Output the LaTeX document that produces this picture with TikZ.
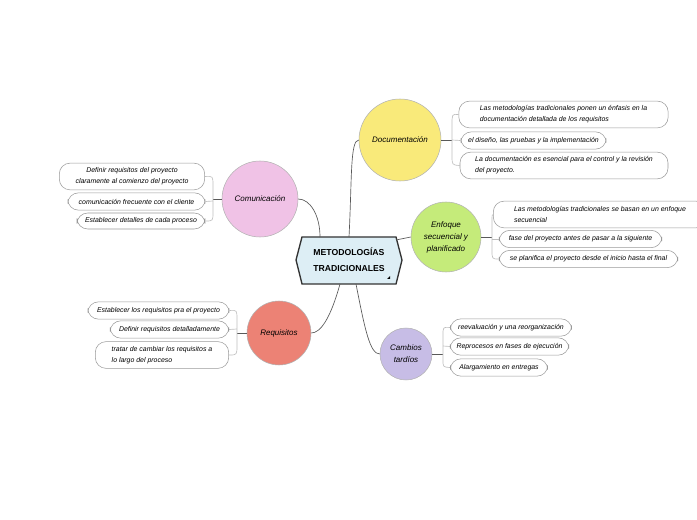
\documentclass[tikz,border=0pt]{standalone}
\usepackage{fontspec}
\setmainfont{Liberation Sans}
\usetikzlibrary{shapes.geometric}
\definecolor{cdoc}{HTML}{F9EA7A}
\definecolor{cenf}{HTML}{C5EB7A}
\definecolor{ccom}{HTML}{F0C2E6}
\definecolor{creq}{HTML}{EC8275}
\definecolor{ccam}{HTML}{C7BDE6}
\definecolor{ccen}{HTML}{DDEEF5}
\begin{document}
\begin{tikzpicture}[x=0.75pt,y=-0.75pt,
  topic/.style={circle,draw=gray!60,fill=#1,font=\itshape\fontsize{6}{9}\selectfont,align=center,inner sep=0pt},
  leaf/.style={draw=gray!80,rounded corners=8pt,font=\itshape\fontsize{5.2}{8}\selectfont,align=left,inner sep=2pt,anchor=center},
  link/.style={draw=gray!70!black,line width=0.5pt},
  br/.style={draw=gray!50,line width=0.5pt}]
\useasboundingbox (0,0) rectangle (697,520);
\node[regular polygon,regular polygon sides=6,draw=none] at (0,0) {};
% center
\draw[fill=ccen,draw=gray!40!black,line width=1pt] (296,260) -- (302,237) -- (396,237) -- (402,260) -- (396,284) -- (302,284) -- cycle;
\node (c) at (349,260) [font=\bfseries\fontsize{6.5}{12}\selectfont,align=left] {METODOLOGÍAS\\TRADICIONALES};
\fill (387,279) -- (390,276) -- (390,279) -- cycle;
% topics
\node[topic=cdoc,minimum size=82pt*0.75] (doc) at (400,140) {Documentación};
\node[topic=cenf,minimum size=70pt*0.75] (enf) at (446,237) {Enfoque\\secuencial y\\planificado};
\node[topic=ccom,minimum size=76pt*0.75] (com) at (260,199) {Comunicación};
\node[topic=creq,minimum size=64pt*0.75] (req) at (279,333) {Requisitos};
\node[topic=ccam,minimum size=52pt*0.75] (cam) at (406,354) {Cambios\\tardíos};
\draw[link] (349,237) .. controls (352,180) and (350,140) .. (doc.west);
\draw[link] (396,240) -- (enf.west);
\draw[link] (320,237) .. controls (320,215) and (310,199) .. (com.east);
\draw[link] (340,284) .. controls (330,320) and (320,333) .. (req.east);
\draw[link] (356,284) .. controls (365,330) and (370,354) .. (cam.west);
% leaves
\node[leaf,minimum width=157,minimum height=20] (d1) at (563.5,114.5) {Las metodologías tradicionales ponen un énfasis en la\\documentación detallada de los requisitos};
\node[leaf,minimum width=109,minimum height=13] (d2) at (533.5,140.5) {el diseño, las pruebas y la implementación};
\node[leaf,minimum width=156,minimum height=20] (d3) at (564,165.5) {La documentación es esencial para el control y la revisión\\del proyecto.};
\node[leaf,minimum width=160,minimum height=20] (e1) at (600,214.5) {Las metodologías tradicionales se basan en un enfoque\\secuencial};
\node[leaf,minimum width=122,minimum height=13] (e2) at (580.5,239) {fase del proyecto antes de pasar a la siguiente};
\node[leaf,minimum width=134,minimum height=13] (e3) at (588.5,259) {se planifica el proyecto desde el inicio hasta el final};
\node[leaf,minimum width=109,minimum height=20,align=center] (m1) at (132,176.5) {Definir requisitos del proyecto\\claramente al comienzo del proyecto};
\node[leaf,minimum width=103,minimum height=13] (m2) at (136.5,201.5) {comunicación frecuente con el cliente};
\node[leaf,minimum width=96,minimum height=12] (m3) at (141,221) {Establecer detalles de cada proceso};
\node[leaf,minimum width=106,minimum height=13] (r1) at (158.5,310.5) {Establecer los requisitos pra el proyecto};
\node[leaf,minimum width=89,minimum height=13] (r2) at (169.5,329.5) {Definir requisitos detalladamente};
\node[leaf,minimum width=100,minimum height=20] (r3) at (162,355) {tratar de cambiar los requisitos a\\lo largo del proceso};
\node[leaf,minimum width=91,minimum height=13] (k1) at (511,327.5) {reevaluación y una reorganización};
\node[leaf,minimum width=89,minimum height=13] (k2) at (509.5,346.5) {Reprocesos en fases de ejecución};
\node[leaf,minimum width=73,minimum height=13] (k3) at (499,367.5) {Alargamiento en entregas};
% brackets
\draw[link] (doc.east) -- (452,140);
\draw[br] (d1.west) .. controls (452,114) .. (452,125) -- (452,155) .. controls (452,165) .. (d3.west);
\draw[br] (452,140) -- (d2.west);
\draw[link] (enf.east) -- (492,237);
\draw[br] (e1.west) .. controls (492,214) .. (492,225) -- (492,250) .. controls (492,259) .. (e3.west);
\draw[br] (492,239) -- (e2.west);
\draw[link] (com.west) -- (213,199);
\draw[br] (m1.east) .. controls (213,176) .. (213,186) -- (213,212) .. controls (213,221) .. (m3.east);
\draw[br] (213,201) -- (m2.east);
\draw[link] (req.west) -- (237,333);
\draw[br] (r1.east) .. controls (237,310) .. (237,320) -- (237,345) .. controls (237,355) .. (r3.east);
\draw[br] (237,329) -- (r2.east);
\draw[link] (cam.east) -- (443,354);
\draw[br] (k1.west) .. controls (443,327) .. (443,335) -- (443,360) .. controls (443,367) .. (k3.west);
\draw[br] (443,346) -- (k2.west);
\end{tikzpicture}
\end{document}
